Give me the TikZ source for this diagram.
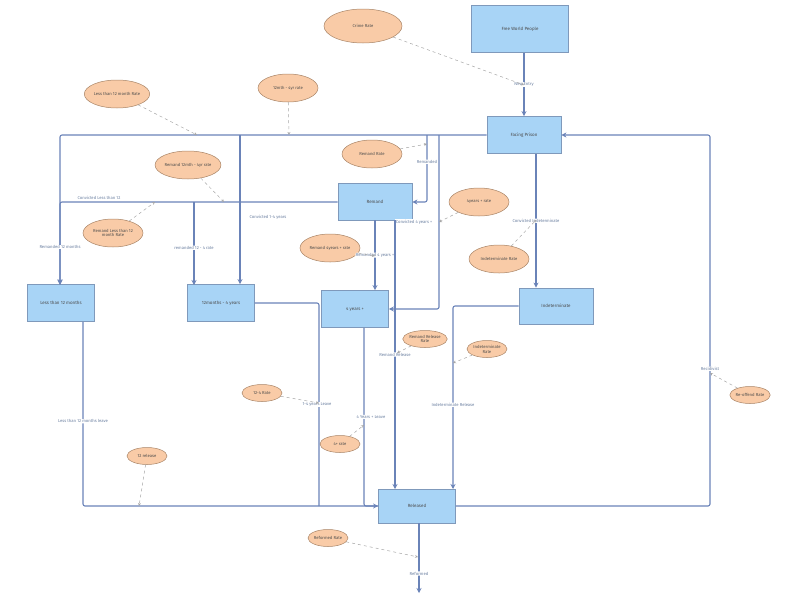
\documentclass[tikz,border=0pt]{standalone}
\usepackage{fontspec}
\setmainfont{Fira Sans}
\usetikzlibrary{arrows.meta,shapes.geometric}
\definecolor{boxf}{HTML}{A8D4F6}
\definecolor{boxd}{HTML}{7F99BB}
\definecolor{ellf}{HTML}{F9CBA7}
\definecolor{elld}{HTML}{A88466}
\definecolor{ln}{HTML}{6A83B8}
\definecolor{lbl}{HTML}{6A7FA0}
\begin{document}
\begin{tikzpicture}[x=1pt,y=-1pt,
  box/.style={draw=boxd,fill=boxf,line width=0.8pt,font=\fontsize{4.5}{5}\selectfont,text=black!70},
  rate/.style={ellipse,draw=elld,fill=ellf,line width=0.5pt,inner sep=0pt,font=\fontsize{4.2}{4.8}\selectfont,text=black!70,align=center},
  flow/.style={draw=ln,line width=1.1pt,rounded corners=2pt},
  fa/.style={flow,-{Stealth[length=5pt,width=5pt]}},
  dep/.style={draw=gray!70,dashed,line width=0.5pt,-{Stealth[length=3pt,width=3pt,open]}},
  lab/.style={font=\fontsize{4.2}{5}\selectfont,text=lbl,fill=white,inner sep=0.5pt}]
\useasboundingbox (0,0) rectangle (800,600);
% boxes
\node[box,minimum width=97pt,minimum height=47pt] (fw) at (520,29) {Free World People};
\node[box,minimum width=74pt,minimum height=37pt] (fp) at (524,135) {Facing Prison};
\node[box,minimum width=74pt,minimum height=37pt] (rm) at (375,202) {Remand};
\node[box,minimum width=67pt,minimum height=37pt] (l12) at (61,303) {Less than 12 months};
\node[box,minimum width=67pt,minimum height=37pt] (m12) at (221,303) {12months - 4 years};
\node[box,minimum width=67pt,minimum height=37pt] (y4) at (355,309) {4 years +};
\node[box,minimum width=74pt,minimum height=36pt] (ind) at (556,306) {Indeterminate};
\node[box,minimum width=77pt,minimum height=34pt] (rel) at (417,506) {Released};
% rates
\node[rate,minimum width=78pt,minimum height=34pt] (crime) at (363,26) {Crime Rate};
\node[rate,minimum width=60pt,minimum height=28pt] (rl12) at (117,94) {Less than 12 month Rate};
\node[rate,minimum width=60pt,minimum height=28pt] (r124) at (288,88) {12mth - 4yr rate};
\node[rate,minimum width=60pt,minimum height=28pt] (rrem) at (372,154) {Remand Rate};
\node[rate,minimum width=60pt,minimum height=28pt] (rr124) at (188,165) {Remand 12mth - 4yr rate};
\node[rate,minimum width=60pt,minimum height=28pt] (rrl12) at (113,233) {Remand Less than 12\\month Rate};
\node[rate,minimum width=60pt,minimum height=28pt] (rr4) at (330,248) {Remand 4years + rate};
\node[rate,minimum width=60pt,minimum height=28pt] (r4) at (479,202) {4years + rate};
\node[rate,minimum width=60pt,minimum height=28pt] (rind) at (499,259) {Indeterminate Rate};
\node[rate,minimum width=40pt,minimum height=17pt] (rrr) at (425,339) {Remand Release\\Rate};
\node[rate,minimum width=40pt,minimum height=17pt] (rindr) at (487,349) {Indeterminate\\Rate};
\node[rate,minimum width=40pt,minimum height=17pt] (r124l) at (262,393) {12-4 Rate};
\node[rate,minimum width=40pt,minimum height=17pt] (r4l) at (340,444) {4+ rate};
\node[rate,minimum width=40pt,minimum height=17pt] (r12r) at (147,456) {12 release};
\node[rate,minimum width=40pt,minimum height=17pt] (rref) at (328,538) {Reformed Rate};
\node[rate,minimum width=40pt,minimum height=17pt] (roff) at (750,395) {Re-offend Rate};
% coordinates
\coordinate (c1) at (197,135);
\coordinate (c2) at (289,135);
\coordinate (c3) at (427,144);
\coordinate (c4) at (224,202);
\coordinate (c5) at (155,202);
\coordinate (c6) at (139,506);
\coordinate (c7) at (418,557);
\coordinate (c8) at (419,593);
\coordinate (c9) at (710,373);
% flows
\draw[fa] (fw.south -| fp) -- node[lab,pos=0.5] (ne) {New Entry} (fp);
\draw[fa] (fp.west) -- (60,135) -- (l12.north -| 60,0);
\draw[fa] (240,135) -- (m12.north -| 240,0) node[lab,pos=0.55,xshift=28pt] {Convicted 1-4 years};
\draw[fa] (427,135) -- node[lab,pos=0.4] {Remanded} (427,202) -- (rm.east);
\draw[fa] (439,135) -- (439,309) -- (y4.east);
\node[lab] (cv4) at (414,222) {Convicted 4 years +};
\draw[fa] (rm.west) -- (60,202) -- (60,285);
\node[lab] at (60,247) {Remanded 12 months};
\node[lab,fill=none] at (99,198) {Convicted Less than 12};
\draw[fa] (194,202) -- node[lab,pos=0.55] {remanded 12 - 4 rate} (194,285);
\draw[fa] (375,220) -- node[lab,pos=0.5] (rm4) {Remanded 4 years +} (y4.north -| 375,0);
\draw[fa] (fp.south -| 536,0) -- node[lab,pos=0.5] (cind) {Convicted Indeterminate} (ind.north -| 536,0);
\draw[fa] (395,220) -- node[lab,pos=0.5] (rrl) {Remand Release} (395,489);
\draw[fa] (ind.west) -- (453,306) -- node[lab,pos=0.54] {Indeterminate Release} (453,489);
\draw[flow] (y4.south -| 364,0) -- node[lab,pos=0.5,xshift=7pt] {4 Years + Leave} (364,506) -- (378,506);
\draw[flow] (m12.east) -- (319,303) -- node[lab,pos=0.5,xshift=-2pt] {1-4 years Leave} (319,506);
\draw[fa] (l12.south -| 83,0) -- node[lab,pos=0.54] {Less than 12 months leave} (83,506) -- (rel.west);
\draw[fa] (rel.east) -- (710,506) -- node[lab,pos=0.37] {Recidivist} (710,135) -- (fp.east);
\draw[fa] (rel.south -| 419,0) -- node[lab,pos=0.72] {Reformed} (c8);
% dependencies
\draw[dep] (crime) -- (524,85);
\draw[dep] (rl12) -- (c1);
\draw[dep] (r124) -- (c2);
\draw[dep] (rrem) -- (c3);
\draw[dep] (rr124) -- (c4);
\draw[dep] (rrl12) -- (c5);
\draw[dep] (rr4) -- (375,256);
\draw[dep] (r4) -- (439,222);
\draw[dep] (rind) -- (536,220);
\draw[dep] (rrr) -- (397,353);
\draw[dep] (rindr) -- (453,363);
\draw[dep] (r124l) -- (319,403);
\draw[dep] (r4l) -- (364,425);
\draw[dep] (r12r) -- (c6);
\draw[dep] (rref) -- (c7);
\draw[dep] (roff) -- (c9);
\end{tikzpicture}
\end{document}
